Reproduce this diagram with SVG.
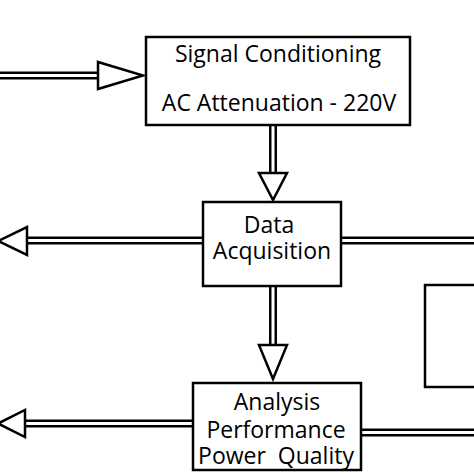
<svg xmlns="http://www.w3.org/2000/svg" width="474" height="474" viewBox="0 0 474 474">
<style>
.box{fill:#fff;stroke:#000;stroke-width:2.5}
.t{font-family:"Open Sans","Noto Sans",sans-serif;font-size:23px;fill:#000;text-anchor:middle}
.outer{stroke:#000;stroke-width:8;fill:none}
.inner{stroke:#fff;stroke-width:3;fill:none}
.head{fill:#fff;stroke:#000;stroke-width:2.5;stroke-linejoin:miter}
</style>
<g id="connectors">
  <!-- input to Signal Conditioning -->
  <path class="outer" d="M0 75.5H100"/><path class="inner" d="M0 75.5H101"/>
  <polygon class="head" points="98,62 98,89 143,75.5"/>
  <!-- Signal Conditioning to Data Acquisition -->
  <path class="outer" d="M273 125V174"/><path class="inner" d="M273 124V175"/>
  <polygon class="head" points="259,173 287,173 273,200"/>
  <!-- Data Acquisition to left -->
  <path class="outer" d="M202 240.5H26"/><path class="inner" d="M203 240.5H25"/>
  <polygon class="head" points="27,227 27,255 -2,241"/>
  <!-- Data Acquisition to right -->
  <path class="outer" d="M341 240.5H476"/><path class="inner" d="M340 240.5H476"/>
  <!-- Data Acquisition to Analysis -->
  <path class="outer" d="M273 286V346"/><path class="inner" d="M273 285V347"/>
  <polygon class="head" points="259,345 287,345 273,379"/>
  <!-- Analysis to left -->
  <path class="outer" d="M192 423.5H24"/><path class="inner" d="M193 423.5H23"/>
  <polygon class="head" points="25,410 25,437 -2,423.5"/>
  <!-- Analysis to right -->
  <path class="outer" d="M361 432.5H476"/><path class="inner" d="M360 432.5H476"/>
</g>
<g id="signal-conditioning">
  <rect class="box" x="146" y="37" width="264" height="88"/>
  <text class="t" x="278" y="62">Signal Conditioning</text>
  <text class="t" x="279" y="111">AC Attenuation - 220V</text>
</g>
<g id="data-acquisition">
  <rect class="box" x="203" y="202" width="138" height="84"/>
  <text class="t" x="269" y="233">Data</text>
  <text class="t" x="272" y="259">Acquisition</text>
</g>
<g id="analysis">
  <rect class="box" x="193" y="383" width="168" height="87"/>
  <text class="t" x="277" y="410">Analysis</text>
  <text class="t" x="276" y="438">Performance</text>
  <text class="t" x="276" y="464" xml:space="preserve">Power  Quality</text>
</g>
<g id="right-box">
  <rect class="box" x="425" y="285" width="60" height="102"/>
</g>
</svg>
